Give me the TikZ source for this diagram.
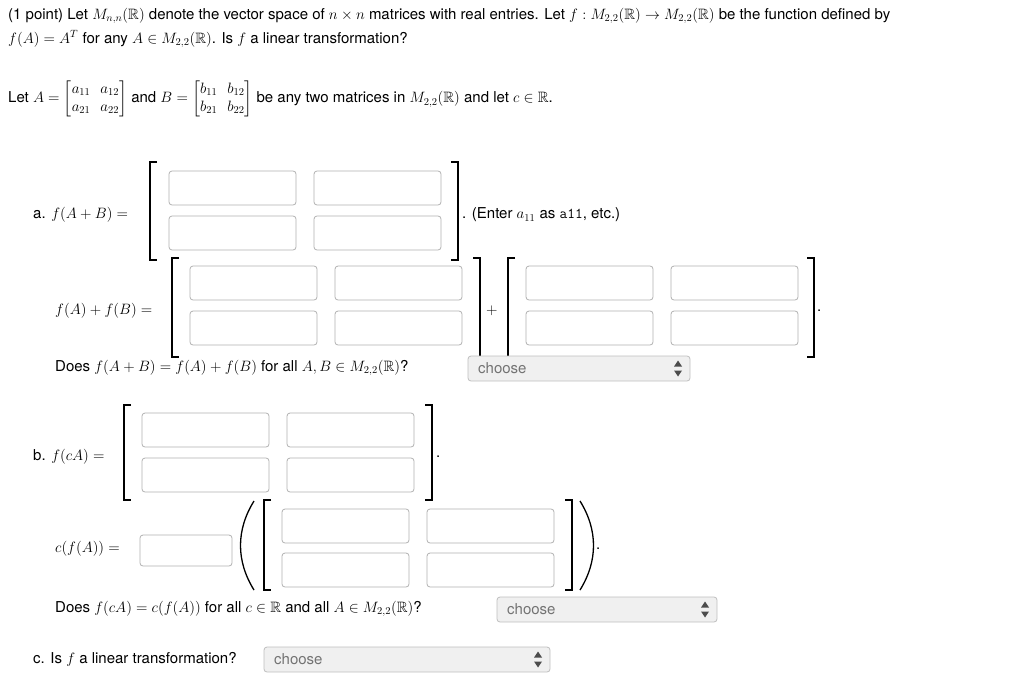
\RequirePackage{fix-cm}
\documentclass[tikz,border=0pt]{standalone}
\usepackage{amsmath,amssymb}
\usepackage{fontspec}
\setmainfont{TeX Gyre Heros}
\begin{document}
\begin{tikzpicture}[x=1pt,y=-1pt,
  every node/.style={font=\fontsize{15}{18}\selectfont,inner sep=0pt,anchor=west},
  inbox/.style={draw=black!30,fill=white,rounded corners=3pt,line width=0.8pt},
  brk/.style={line width=1.1pt},
  sel/.style={draw=black!25,fill=black!6,rounded corners=3pt,line width=0.8pt}]
\useasboundingbox (0,0) rectangle (1024,680);
\fill[white] (0,0) rectangle (1024,680);
\newcommand\ibox[3]{\draw[inbox] (#1,#2) rectangle ++(127,34);}
\newcommand\lbr[3]{\draw[brk] (#1+7,#2)--(#1,#2)--(#1,#3)--(#1+7,#3);}
\newcommand\rbr[3]{\draw[brk] (#1-7,#2)--(#1,#2)--(#1,#3)--(#1-7,#3);}
\newcommand\selbox[5]{\draw[sel] (#1,#2) rectangle (#3,#4);
  \node[text=black!55] (#5) at (#1+10,#2/2+#4/2) {choose};
  \fill[black!70] (#3-16,#2/2+#4/2-2)--(#3-8,#2/2+#4/2-2)--(#3-12,#2/2+#4/2-8)--cycle;
  \fill[black!70] (#3-16,#2/2+#4/2+2)--(#3-8,#2/2+#4/2+2)--(#3-12,#2/2+#4/2+8)--cycle;}
\node (l1) at (8,16) {(1 point) Let $M_{n,n}(\mathbb{R})$ denote the vector space of $n\times n$ matrices with real entries. Let $f:M_{2,2}(\mathbb{R})\to M_{2,2}(\mathbb{R})$ be the function defined by};
\node (l2) at (8,39) {$f(A)=A^T$ for any $A\in M_{2,2}(\mathbb{R})$. Is $f$ a linear transformation?};
\node (l3) at (8,99) {Let $A=\begin{bmatrix}a_{11}&a_{12}\\a_{21}&a_{22}\end{bmatrix}$ and $B=\begin{bmatrix}b_{11}&b_{12}\\b_{21}&b_{22}\end{bmatrix}$ be any two matrices in $M_{2,2}(\mathbb{R})$ and let $c\in\mathbb{R}$.};
% a
\node (ta) at (33,215) {a. $f(A+B)=$};
\lbr{150}{162}{260}\rbr{458}{162}{260}
\ibox{169}{171}{}\ibox{314}{171}{}\ibox{169}{216}{}\ibox{314}{216}{}
\node (ea) at (462,215) {. (Enter $a_{11}$ as \texttt{a11}, etc.)};
\node (tab) at (55,311) {$f(A)+f(B)=$};
\lbr{172}{258}{357}\rbr{480}{258}{357}
\ibox{190}{266}{}\ibox{335}{266}{}\ibox{190}{311}{}\ibox{335}{311}{}
\node (plus) at (486,311) {$+$};
\lbr{508}{258}{357}\rbr{814}{258}{357}
\ibox{526}{266}{}\ibox{671}{266}{}\ibox{526}{311}{}\ibox{671}{311}{}
\node (d1) at (817,311) {.};
\node (q1) at (55,368) {Does $f(A+B)=f(A)+f(B)$ for all $A,B\in M_{2,2}(\mathbb{R})$?};
\selbox{468}{356}{690}{381}{s1}
% b
\node (tb) at (33,457) {b. $f(cA)=$};
\lbr{124}{405}{500}\rbr{432}{405}{500}
\ibox{142}{413}{}\ibox{287}{413}{}\ibox{142}{458}{}\ibox{287}{458}{}
\node (d2) at (436,457) {.};
\node (tc) at (55,549) {$c(f(A))=$};
\draw[inbox] (140,535) rectangle (232,566);
\draw[line width=1.3pt] (254,501) .. controls (236,530) and (236,561) .. (254,590);
\lbr{264}{500}{590}\rbr{572}{500}{590}
\ibox{282}{509}{}\ibox{427}{509}{}\ibox{282}{553}{}\ibox{427}{553}{}
\draw[line width=1.3pt] (580,501) .. controls (598,530) and (598,561) .. (580,590);
\node (d3) at (596,549) {.};
\node (q2) at (55,609) {Does $f(cA)=c(f(A))$ for all $c\in\mathbb{R}$ and all $A\in M_{2,2}(\mathbb{R})$?};
\selbox{497}{597}{717}{622}{s2}
\node (q3) at (33,659) {c. Is $f$ a linear transformation?};
\selbox{264}{647}{550}{672}{s3}
\end{tikzpicture}
\end{document}
